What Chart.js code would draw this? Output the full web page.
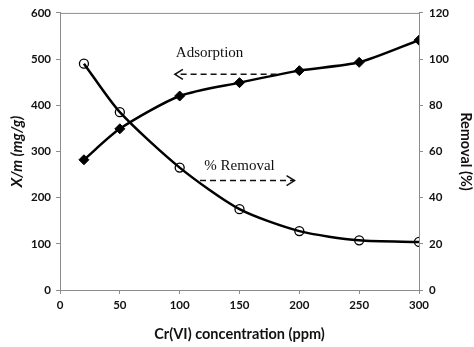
<!DOCTYPE html>
<html>
<head>
<meta charset="utf-8">
<script src="https://cdn.jsdelivr.net/npm/chart.js@4/dist/chart.umd.min.js"></script>
<style>
  html, body { margin: 0; padding: 0; background: #fff; }
  #wrap { width: 474px; height: 347px; }
</style>
</head>
<body>
<div id="wrap"><canvas id="c" width="474" height="347"></canvas></div>
<script>
// Cr(VI) concentration (ppm)
const conc = [20, 50, 100, 150, 200, 250, 300];
// X/m (mg/g), left axis
const adsorption = [282, 349, 420, 449, 475, 493, 541];
// Removal (%), right axis
const removal = [98, 77, 53, 35, 25.5, 21.5, 20.8];

const xTicks = [0, 50, 100, 150, 200, 250, 300];

// annotation labels and arrows in data units (x, left-axis y)
const notes = [
  { text: 'Adsorption', x: 125, y: 513 },
  { text: '% Removal', x: 150, y: 268 }
];
const arrows = [
  { x0: 181, x1: 96, y: 467 },
  { x0: 117, x1: 196, y: 237 }
];

const axisGray = '#8c8c8c';
const tickFont = { family: 'Lato', size: 11.5, weight: 'bold' };

const decor = {
  id: 'decor',
  afterDraw(chart) {
    const { ctx, chartArea: a, scales } = chart;
    const x = scales.x, y = scales.y;
    ctx.save();
    // top border of the plot area
    ctx.strokeStyle = axisGray;
    ctx.lineWidth = 1;
    ctx.beginPath();
    ctx.moveTo(a.left, a.top + 0.5);
    ctx.lineTo(a.right, a.top + 0.5);
    ctx.stroke();

    ctx.fillStyle = '#111';
    ctx.font = '15px "Liberation Serif"';
    ctx.textAlign = 'center';
    ctx.textBaseline = 'middle';
    notes.forEach(n => ctx.fillText(n.text, x.getPixelForValue(n.x), y.getPixelForValue(n.y)));

    ctx.strokeStyle = '#111';
    ctx.lineWidth = 1.5;
    arrows.forEach(ar => {
      const px0 = x.getPixelForValue(ar.x0), px1 = x.getPixelForValue(ar.x1);
      const py = y.getPixelForValue(ar.y);
      const dir = px1 > px0 ? 1 : -1;
      ctx.setLineDash([6, 4]);
      ctx.beginPath();
      ctx.moveTo(px0, py);
      ctx.lineTo(px1, py);
      ctx.stroke();
      ctx.setLineDash([]);
      ctx.beginPath();
      ctx.moveTo(px1 - dir * 8, py - 5);
      ctx.lineTo(px1, py);
      ctx.lineTo(px1 - dir * 8, py + 5);
      ctx.stroke();
    });
    ctx.restore();
  }
};

new Chart(document.getElementById('c').getContext('2d'), {
  type: 'scatter',
  data: {
    datasets: [
      {
        label: 'Adsorption',
        data: conc.map((c, i) => ({ x: c, y: adsorption[i] })),
        yAxisID: 'y',
        showLine: true,
        tension: 0.25,
        borderColor: '#000',
        borderWidth: 2.5,
        pointStyle: 'rectRot',
        pointRadius: 5,
        pointBackgroundColor: '#000',
        pointBorderColor: '#000',
        pointBorderWidth: 1
      },
      {
        label: '% Removal',
        data: conc.map((c, i) => ({ x: c, y: removal[i] })),
        yAxisID: 'y1',
        showLine: true,
        tension: 0.25,
        borderColor: '#000',
        borderWidth: 2.5,
        pointStyle: 'circle',
        pointRadius: 4.5,
        pointBackgroundColor: 'rgba(0,0,0,0)',
        pointBorderColor: '#000',
        pointBorderWidth: 1.3
      }
    ]
  },
  options: {
    responsive: false,
    animation: false,
    layout: { padding: { top: 6, left: 0, right: 0, bottom: 0 } },
    plugins: { legend: { display: false }, tooltip: { enabled: false } },
    scales: {
      x: {
        type: 'linear',
        min: 0, max: 300,
        afterBuildTicks: s => { s.ticks = xTicks.map(v => ({ value: v })); },
        afterFit: s => { s.height = 57; },
        border: { color: axisGray, width: 1 },
        grid: { drawOnChartArea: false, color: axisGray, tickLength: 4 },
        ticks: { color: '#111', font: tickFont, padding: 4, maxRotation: 0 },
        title: {
          display: true, text: 'Cr(VI) concentration (ppm)', color: '#111',
          font: { family: 'Lato', size: 14.5, weight: 'bold' }, padding: { top: 8 }
        }
      },
      y: {
        position: 'left',
        min: 0, max: 600,
        ticks: { stepSize: 100, color: '#111', font: tickFont, padding: 5 },
        afterFit: s => { s.width = 60; },
        border: { color: axisGray, width: 1 },
        grid: { drawOnChartArea: false, color: axisGray, tickLength: 4 },
        title: {
          display: true, text: 'X/m (mg/g)', color: '#111',
          font: { family: 'Lato', size: 15, weight: 'bold', style: 'italic' }, padding: { top: 8, bottom: 0 }
        }
      },
      y1: {
        position: 'right',
        min: 0, max: 120,
        ticks: { stepSize: 20, color: '#111', font: tickFont, padding: 6 },
        afterFit: s => { s.width = 55; },
        border: { color: axisGray, width: 1 },
        grid: { drawOnChartArea: false, color: axisGray, tickLength: 4 },
        title: {
          display: true, text: 'Removal (%)', color: '#111',
          font: { family: 'Lato', size: 14.5, weight: 'bold' }, padding: { top: 0, bottom: 2 }
        }
      }
    }
  },
  plugins: [decor]
});
</script>
</body>
</html>
